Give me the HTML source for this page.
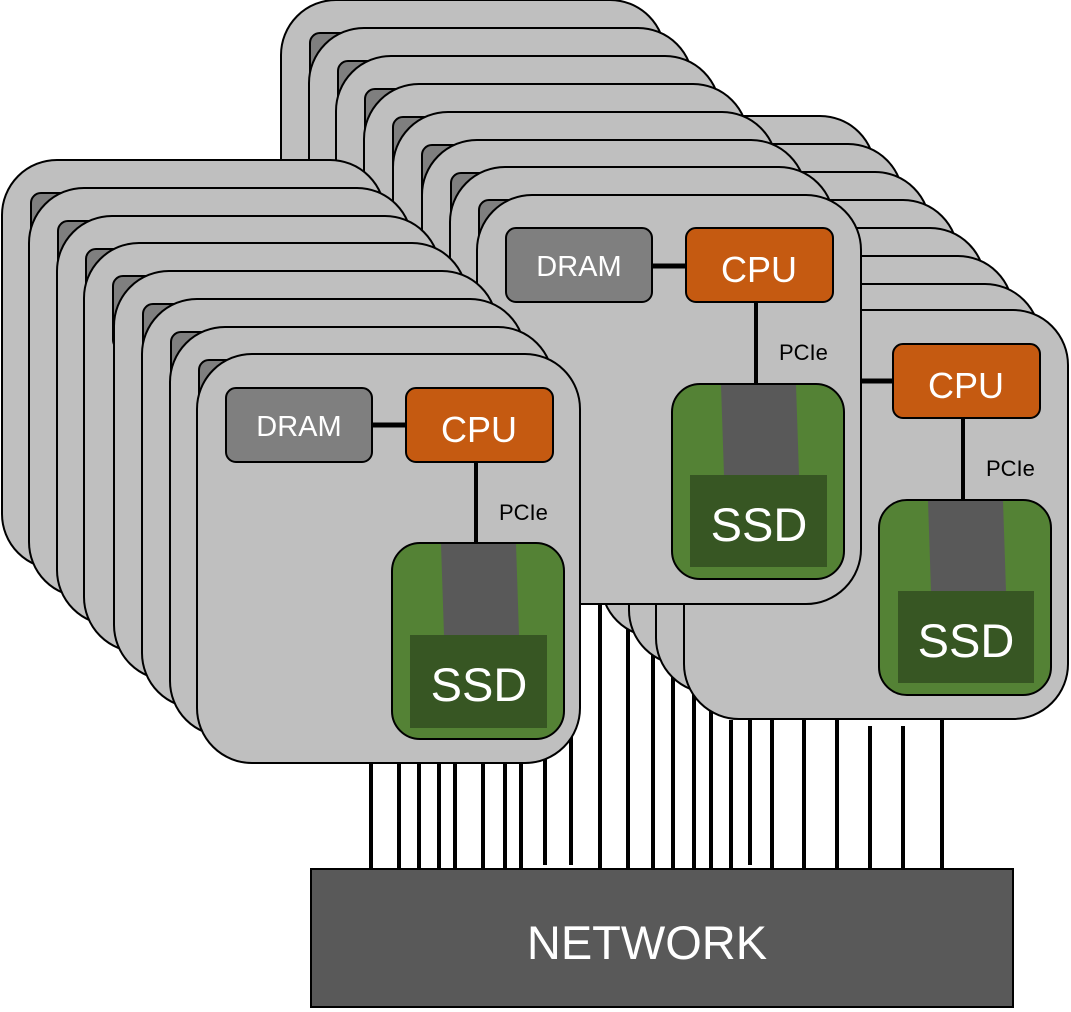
<!DOCTYPE html>
<html><head><meta charset="utf-8"><style>
html,body{margin:0;padding:0;background:#fff;}
svg{display:block;}
text{font-family:"Liberation Sans",sans-serif;}
</style></head><body>
<svg width="1071" height="1012" viewBox="0 0 1071 1012" xmlns="http://www.w3.org/2000/svg">
<g stroke="#000" stroke-width="4">
<line x1="371" y1="600" x2="371" y2="874"/><line x1="399" y1="600" x2="399" y2="869"/>
<line x1="419" y1="600" x2="419" y2="874"/><line x1="439" y1="600" x2="439" y2="869"/>
<line x1="455" y1="600" x2="455" y2="874"/><line x1="483" y1="600" x2="483" y2="869"/>
<line x1="505" y1="600" x2="505" y2="874"/><line x1="521" y1="600" x2="521" y2="869"/>
<line x1="545" y1="600" x2="545" y2="865"/><line x1="571" y1="600" x2="571" y2="865"/>
<line x1="600" y1="600" x2="600" y2="869"/><line x1="628" y1="600" x2="628" y2="869"/>
<line x1="653" y1="600" x2="653" y2="869"/><line x1="673" y1="600" x2="673" y2="869"/>
<line x1="694" y1="600" x2="694" y2="869"/><line x1="711" y1="600" x2="711" y2="869"/>
<line x1="731" y1="720" x2="731" y2="869"/><line x1="750" y1="716" x2="750" y2="865"/>
<line x1="772" y1="700" x2="772" y2="869"/><line x1="804" y1="700" x2="804" y2="869"/>
<line x1="837" y1="700" x2="837" y2="871"/><line x1="870" y1="726" x2="870" y2="875"/>
<line x1="903" y1="726" x2="903" y2="875"/><line x1="942" y1="700" x2="942" y2="869"/>
</g>
<rect x="311" y="869" width="702" height="138" fill="#595959" stroke="#000" stroke-width="2"/>
<text x="647" y="959" font-size="47" fill="#fff" text-anchor="middle">NETWORK</text>

<!-- right stack -->
<g transform="translate(491,116)"><rect width="384" height="409" rx="55" fill="#bfbfbf" stroke="#000" stroke-width="2"/><rect x="29" y="33" width="146" height="74" rx="10" fill="#7f7f7f" stroke="#000" stroke-width="2"/></g>
<g transform="translate(519,144)"><rect width="384" height="409" rx="55" fill="#bfbfbf" stroke="#000" stroke-width="2"/><rect x="29" y="33" width="146" height="74" rx="10" fill="#7f7f7f" stroke="#000" stroke-width="2"/></g>
<g transform="translate(546,172)"><rect width="384" height="409" rx="55" fill="#bfbfbf" stroke="#000" stroke-width="2"/><rect x="29" y="33" width="146" height="74" rx="10" fill="#7f7f7f" stroke="#000" stroke-width="2"/></g>
<g transform="translate(574,200)"><rect width="384" height="409" rx="55" fill="#bfbfbf" stroke="#000" stroke-width="2"/><rect x="29" y="33" width="146" height="74" rx="10" fill="#7f7f7f" stroke="#000" stroke-width="2"/></g>
<g transform="translate(601,228)"><rect width="384" height="409" rx="55" fill="#bfbfbf" stroke="#000" stroke-width="2"/><rect x="29" y="33" width="146" height="74" rx="10" fill="#7f7f7f" stroke="#000" stroke-width="2"/></g>
<g transform="translate(629,256)"><rect width="384" height="409" rx="55" fill="#bfbfbf" stroke="#000" stroke-width="2"/><rect x="29" y="33" width="146" height="74" rx="10" fill="#7f7f7f" stroke="#000" stroke-width="2"/></g>
<g transform="translate(656,284)"><rect width="384" height="409" rx="55" fill="#bfbfbf" stroke="#000" stroke-width="2"/><rect x="29" y="33" width="146" height="74" rx="10" fill="#7f7f7f" stroke="#000" stroke-width="2"/></g>
<g transform="translate(684,310)">
<rect width="384" height="409" rx="55" fill="#bfbfbf" stroke="#000" stroke-width="2"/>
<rect x="29" y="33" width="146" height="74" rx="10" fill="#7f7f7f" stroke="#000" stroke-width="2"/>
<line x1="175" y1="71" x2="209" y2="71" stroke="#000" stroke-width="5"/>
<line x1="279" y1="107" x2="279" y2="190" stroke="#000" stroke-width="4"/>
<rect x="209" y="34" width="147" height="74" rx="10" fill="#c55a11" stroke="#000" stroke-width="2"/>
<text x="282" y="88" font-size="36" fill="#fff" text-anchor="middle">CPU</text>
<text x="302" y="166" font-size="22" fill="#000">PCIe</text>
<rect x="195" y="190" width="172" height="195" rx="28" fill="#548235" stroke="#000" stroke-width="2"/>
<polygon points="244,191 319,191 322,281 247,281" fill="#595959"/>
<rect x="214" y="281" width="136" height="92" fill="#375623"/>
<text x="282" y="347" font-size="47" fill="#fff" text-anchor="middle">SSD</text>
</g>

<!-- middle stack -->
<g transform="translate(281,0)"><rect width="384" height="409" rx="55" fill="#bfbfbf" stroke="#000" stroke-width="2"/><rect x="29" y="33" width="146" height="74" rx="10" fill="#7f7f7f" stroke="#000" stroke-width="2"/></g>
<g transform="translate(309,28)"><rect width="384" height="409" rx="55" fill="#bfbfbf" stroke="#000" stroke-width="2"/><rect x="29" y="33" width="146" height="74" rx="10" fill="#7f7f7f" stroke="#000" stroke-width="2"/></g>
<g transform="translate(336,56)"><rect width="384" height="409" rx="55" fill="#bfbfbf" stroke="#000" stroke-width="2"/><rect x="29" y="33" width="146" height="74" rx="10" fill="#7f7f7f" stroke="#000" stroke-width="2"/></g>
<g transform="translate(364,84)"><rect width="384" height="409" rx="55" fill="#bfbfbf" stroke="#000" stroke-width="2"/><rect x="29" y="33" width="146" height="74" rx="10" fill="#7f7f7f" stroke="#000" stroke-width="2"/></g>
<g transform="translate(393,112)"><rect width="384" height="409" rx="55" fill="#bfbfbf" stroke="#000" stroke-width="2"/><rect x="29" y="33" width="146" height="74" rx="10" fill="#7f7f7f" stroke="#000" stroke-width="2"/></g>
<g transform="translate(422,140)"><rect width="384" height="409" rx="55" fill="#bfbfbf" stroke="#000" stroke-width="2"/><rect x="29" y="33" width="146" height="74" rx="10" fill="#7f7f7f" stroke="#000" stroke-width="2"/></g>
<g transform="translate(450,167)"><rect width="384" height="409" rx="55" fill="#bfbfbf" stroke="#000" stroke-width="2"/><rect x="29" y="33" width="146" height="74" rx="10" fill="#7f7f7f" stroke="#000" stroke-width="2"/></g>
<g transform="translate(477,195)">
<rect width="384" height="409" rx="55" fill="#bfbfbf" stroke="#000" stroke-width="2"/>
<rect x="29" y="33" width="146" height="74" rx="10" fill="#7f7f7f" stroke="#000" stroke-width="2"/>
<text x="102" y="81" font-size="29" fill="#fff" text-anchor="middle">DRAM</text>
<line x1="175" y1="71" x2="209" y2="71" stroke="#000" stroke-width="5"/>
<line x1="279" y1="107" x2="279" y2="190" stroke="#000" stroke-width="4"/>
<rect x="209" y="33" width="147" height="74" rx="10" fill="#c55a11" stroke="#000" stroke-width="2"/>
<text x="282" y="87" font-size="36" fill="#fff" text-anchor="middle">CPU</text>
<text x="302" y="165" font-size="22" fill="#000">PCIe</text>
<rect x="195" y="189" width="172" height="195" rx="28" fill="#548235" stroke="#000" stroke-width="2"/>
<polygon points="244,190 319,190 322,280 247,280" fill="#595959"/>
<rect x="213" y="280" width="137" height="92" fill="#375623"/>
<text x="282" y="346" font-size="47" fill="#fff" text-anchor="middle">SSD</text>
</g>

<!-- left stack -->
<g transform="translate(2,160)"><rect width="383" height="409" rx="55" fill="#bfbfbf" stroke="#000" stroke-width="2"/><rect x="29" y="33" width="146" height="74" rx="10" fill="#7f7f7f" stroke="#000" stroke-width="2"/></g>
<g transform="translate(29,188)"><rect width="383" height="409" rx="55" fill="#bfbfbf" stroke="#000" stroke-width="2"/><rect x="29" y="33" width="146" height="74" rx="10" fill="#7f7f7f" stroke="#000" stroke-width="2"/></g>
<g transform="translate(57,216)"><rect width="383" height="409" rx="55" fill="#bfbfbf" stroke="#000" stroke-width="2"/><rect x="29" y="33" width="146" height="74" rx="10" fill="#7f7f7f" stroke="#000" stroke-width="2"/></g>
<g transform="translate(84,243)"><rect width="383" height="409" rx="55" fill="#bfbfbf" stroke="#000" stroke-width="2"/><rect x="29" y="33" width="146" height="74" rx="10" fill="#7f7f7f" stroke="#000" stroke-width="2"/></g>
<g transform="translate(114,271)"><rect width="383" height="409" rx="55" fill="#bfbfbf" stroke="#000" stroke-width="2"/><rect x="29" y="33" width="146" height="74" rx="10" fill="#7f7f7f" stroke="#000" stroke-width="2"/></g>
<g transform="translate(142,299)"><rect width="383" height="409" rx="55" fill="#bfbfbf" stroke="#000" stroke-width="2"/><rect x="29" y="33" width="146" height="74" rx="10" fill="#7f7f7f" stroke="#000" stroke-width="2"/></g>
<g transform="translate(170,327)"><rect width="383" height="409" rx="55" fill="#bfbfbf" stroke="#000" stroke-width="2"/><rect x="29" y="33" width="146" height="74" rx="10" fill="#7f7f7f" stroke="#000" stroke-width="2"/></g>
<g transform="translate(197,354)">
<rect width="383" height="409" rx="55" fill="#bfbfbf" stroke="#000" stroke-width="2"/>
<rect x="29" y="34" width="146" height="74" rx="10" fill="#7f7f7f" stroke="#000" stroke-width="2"/>
<text x="102" y="82" font-size="29" fill="#fff" text-anchor="middle">DRAM</text>
<line x1="175" y1="71" x2="209" y2="71" stroke="#000" stroke-width="5"/>
<line x1="279" y1="107" x2="279" y2="190" stroke="#000" stroke-width="4"/>
<rect x="209" y="34" width="147" height="74" rx="10" fill="#c55a11" stroke="#000" stroke-width="2"/>
<text x="282" y="88" font-size="36" fill="#fff" text-anchor="middle">CPU</text>
<text x="302" y="166" font-size="22" fill="#000">PCIe</text>
<rect x="195" y="189" width="172" height="196" rx="28" fill="#548235" stroke="#000" stroke-width="2"/>
<polygon points="244,190 319,190 322,281 247,281" fill="#595959"/>
<rect x="213" y="281" width="137" height="93" fill="#375623"/>
<text x="282" y="347" font-size="47" fill="#fff" text-anchor="middle">SSD</text>
</g>
</svg>
</body></html>
